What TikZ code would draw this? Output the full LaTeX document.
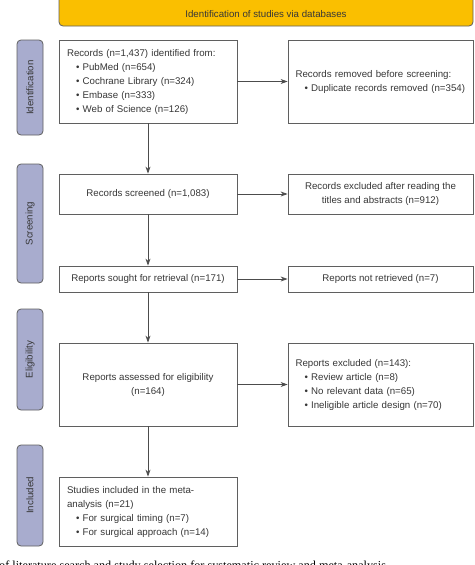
\documentclass[tikz,border=0pt]{standalone}
\usepackage{fontspec}
\setmainfont{Liberation Sans}
\newfontfamily\capfont{Liberation Serif}
\usetikzlibrary{arrows.meta}
\definecolor{txtgray}{RGB}{55,55,55}
\definecolor{linegray}{RGB}{95,95,95}
\definecolor{bannerfill}{RGB}{250,191,0}
\definecolor{phasefill}{RGB}{168,172,206}
\begin{document}
\begin{tikzpicture}[x=1pt,y=-1pt,
    font=\fontsize{9.7}{14}\selectfont, text=txtgray,
    box/.style={draw=linegray,line width=0.8pt,fill=white,inner sep=0pt,align=center},
    lbox/.style={box,align=left,inner xsep=8pt},
    phase/.style={draw=linegray,line width=0.8pt,fill=phasefill,rounded corners=4pt,
        minimum height=26pt,rotate=90,inner sep=0pt},
    arr/.style={linegray!80!black,line width=0.8pt,-{Stealth[length=7pt,width=5pt]}}]
  \useasboundingbox (0,0) rectangle (474,565);
  % banner on top
  \draw[draw=linegray,line width=0.8pt,fill=bannerfill,rounded corners=4pt]
      (59,-10) rectangle (473,26);
  \node (db) at (266,14) {Identification of studies via databases};
  % phases
  \node[phase,minimum width=95pt]  (ident) at (30,87.5)  {Identification};
  \node[phase,minimum width=119pt] (scr)   at (30,223.5) {Screening};
  \node[phase,minimum width=101pt] (elig)  at (30,359.5) {Eligibility};
  \node[phase,minimum width=101pt] (incl)  at (30,495.5) {Included};
  % left column
  \node[lbox,text width=162pt,minimum height=83pt] (found) at (148,81.5)
      {Records (n=1,437) identified from:\\
       \hspace*{9pt}\textbullet\ PubMed (n=654)\\
       \hspace*{9pt}\textbullet\ Cochrane Library (n=324)\\
       \hspace*{9pt}\textbullet\ Embase (n=333)\\
       \hspace*{9pt}\textbullet\ Web of Science (n=126)};
  \node[box,minimum width=178pt,minimum height=40pt] (screened) at (148,194)
      {Records screened (n=1,083)};
  \node[box,minimum width=178pt,minimum height=26pt] (sought) at (148,279)
      {Reports sought for retrieval (n=171)};
  \node[box,minimum width=178pt,minimum height=83pt] (assessed) at (148,384.5)
      {Reports assessed for eligibility\\(n=164)};
  \node[lbox,text width=162pt,minimum height=69pt] (included) at (148,511.5)
      {Studies included in the meta-\\
       analysis (n=21)\\
       \hspace*{9pt}\textbullet\ For surgical timing (n=7)\\
       \hspace*{9pt}\textbullet\ For surgical approach (n=14)};
  % right column
  \node[lbox,text width=170pt,inner xsep=7.5pt,minimum height=83pt] (removed) at (380.5,81.5)
      {Records removed before screening:\\
       \mbox{\hspace*{9pt}\textbullet\ Duplicate records removed (n=354)}};
  \node[box,minimum width=185pt,minimum height=40pt] (excl) at (380.5,194)
      {Records excluded after reading the\\titles and abstracts (n=912)};
  \node[box,minimum width=185pt,minimum height=26pt] (notret) at (380.5,279)
      {Reports not retrieved (n=7)};
  \node[lbox,text width=170pt,inner xsep=7.5pt,minimum height=83pt] (rexcl) at (380.5,384.5)
      {Reports excluded (n=143):\\
       \hspace*{9pt}\textbullet\ Review article (n=8)\\
       \hspace*{9pt}\textbullet\ No relevant data (n=65)\\
       \hspace*{9pt}\textbullet\ Ineligible article design (n=70)};
  % arrows
  \draw[arr] (found) -- (screened);
  \draw[arr] (screened) -- (sought);
  \draw[arr] (sought) -- (assessed);
  \draw[arr] (assessed) -- (included);
  \draw[arr] (found) -- (removed);
  \draw[arr] (screened) -- (excl);
  \draw[arr] (sought) -- (notret);
  \draw[arr] (assessed) -- (rexcl);
  % caption, cut by the page edge
  \node[anchor=base west,inner sep=0pt,text=black,font=\capfont\fontsize{12.2}{14}\selectfont]
      (cap) at (-1,569.5) {of literature search and study selection for systematic review and meta-analysis};
\end{tikzpicture}
\end{document}
